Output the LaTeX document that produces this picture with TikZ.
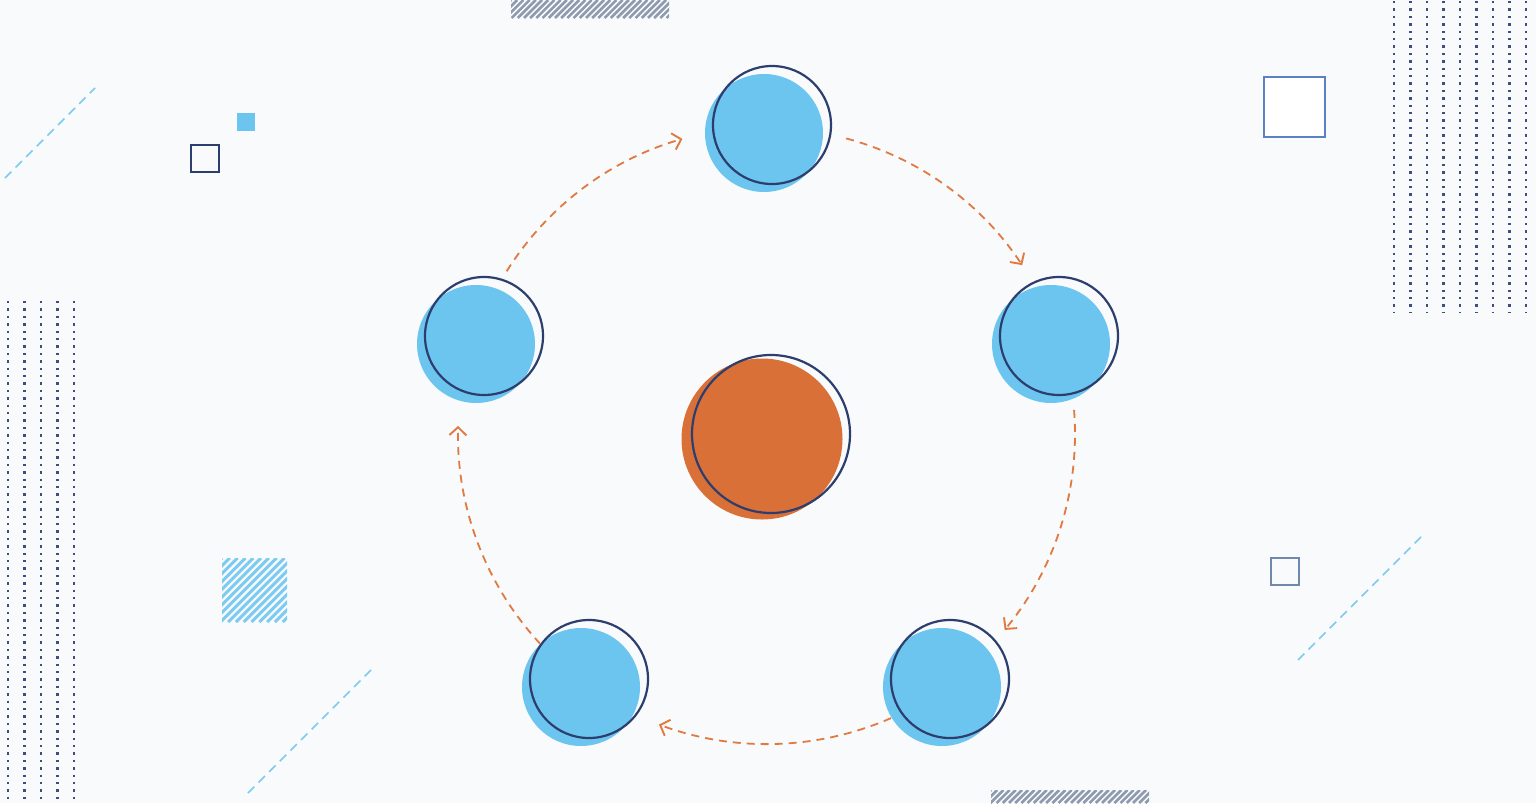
\documentclass[tikz,border=0pt]{standalone}
\usetikzlibrary{arrows.meta,calc}
\definecolor{bgc}{HTML}{F8FAFC}
\definecolor{cblue}{HTML}{6CC5EF}
\definecolor{cnavy}{HTML}{2D3E6E}
\definecolor{corange}{HTML}{D97038}
\definecolor{carrow}{HTML}{E07A40}
\definecolor{cdot}{HTML}{3D4F80}
\definecolor{chgray}{HTML}{8E9AAE}
\definecolor{chblue}{HTML}{7DCBF0}
\definecolor{cldash}{HTML}{7CCBEF}
\definecolor{csq}{HTML}{5B80C4}
\definecolor{csq2}{HTML}{7088B0}
\tikzset{
  fillblob/.style={circle, fill=#1, inner sep=0pt},
  ring/.style={circle, draw=cnavy, line width=2.2pt, inner sep=0pt},
  arr/.style={draw=carrow, line width=1.8pt, dash pattern=on 8pt off 6pt, -{Straight Barb[length=8pt,width=17pt,line width=1.9pt]}},
  dotcol/.style={draw=cdot, line width=2.4pt, dash pattern=on 2.4pt off 5pt},
  ldash/.style={draw=cldash, line width=1.7pt, dash pattern=on 9pt off 6pt},
}
\begin{document}
\begin{tikzpicture}[x=1pt,y=-1pt]
\fill[bgc] (0,0) rectangle (1536,803);
\useasboundingbox (0,0) rectangle (1536,803);

% hatch strips
\begin{scope}
\clip (511,0) rectangle (669,18);
\foreach \i in {0,...,28} \draw[chgray, line width=2.6pt] ({493+\i*6.2},18) -- ++(18,-18);
\end{scope}
\begin{scope}
\clip (991,790) rectangle (1149,803);
\foreach \i in {0,...,28} \draw[chgray, line width=2.6pt] ({978+\i*6.2},803) -- ++(13,-13);
\end{scope}
\begin{scope}
\clip (222,558) rectangle (287,622);
\foreach \i in {0,...,17} \draw[chblue, line width=3pt] ({158+\i*7.8},622) -- ++(64,-64);
\end{scope}

% dotted columns
\foreach \x in {8,24.5,41,57.5,74} \draw[dotcol] (\x,301) -- (\x,800);
\foreach \k in {0,...,8} \draw[dotcol] ({1394+\k*16.5},1) -- ({1394+\k*16.5},313);

% light dashed lines
\draw[ldash] (5,178) -- (95,88);
\draw[ldash] (248,793) -- (374,667);
\draw[ldash] (1298,660) -- (1423,535);

% small squares
\draw[cnavy, line width=1.8pt] (191,145) rectangle (219,172);
\fill[cblue] (237,113) rectangle (255,131);
\draw[csq, line width=1.8pt, fill=white] (1264,77) rectangle (1325,137);
\draw[csq2, line width=1.6pt] (1271,558) rectangle (1299,585);

% circles
\node[fillblob=corange, minimum size=161pt] (cf) at (762,439) {};
\node[ring, minimum size=158pt] (c) at (771,434) {};
\node[fillblob=cblue, minimum size=118pt] (tf) at (764,133) {};
\node[ring, minimum size=118pt] (t) at (772,125) {};
\node[fillblob=cblue, minimum size=118pt] (rf) at (1051,344) {};
\node[ring, minimum size=118pt] (r) at (1059,336) {};
\node[fillblob=cblue, minimum size=118pt] (lf) at (476,344) {};
\node[ring, minimum size=118pt] (l) at (484,336) {};
\node[fillblob=cblue, minimum size=118pt] (blf) at (581,687) {};
\node[ring, minimum size=118pt] (bl) at (589,679) {};
\node[fillblob=cblue, minimum size=118pt] (brf) at (942,687) {};
\node[ring, minimum size=118pt] (br) at (950,679) {};

% arrows (arcs around the cycle centre)
\coordinate (O) at (767,434);
\coordinate (a1) at ($(O)+(212:307)$);
\coordinate (a2) at ($(O)+(285:306)$);
\coordinate (a3) at ($(O)+(355.5:308)$);
\coordinate (a4) at ($(O)+(66.4:310)$);
\coordinate (a5) at ($(O)+(137.2:309)$);
\draw[arr] (a1) arc[start angle=212, end angle=254, radius=307];
\draw[arr] (a2) arc[start angle=285, end angle=326.5, radius=306];
\draw[arr] (a3) arc[start angle=355.5, end angle=399.5, radius=308];
\draw[arr] (a4) arc[start angle=66.4, end angle=110.4, radius=310];
\draw[arr] (a5) arc[start angle=137.2, end angle=181.5, radius=309];
\end{tikzpicture}
\end{document}
